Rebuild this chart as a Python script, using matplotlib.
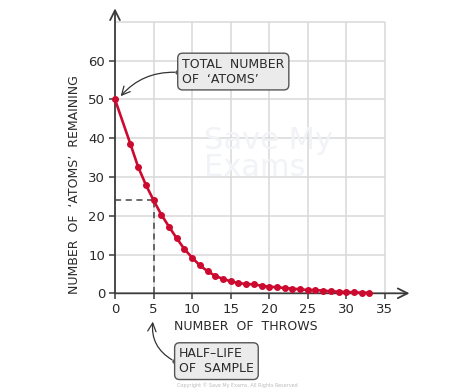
import matplotlib
matplotlib.use('Agg')
import matplotlib.pyplot as plt

# throws vs atoms remaining
throws = [0, 2, 3, 4, 5, 6, 7, 8, 9, 10, 11, 12, 13, 14, 15, 16, 17, 18, 19,
          20, 21, 22, 23, 24, 25, 26, 27, 28, 29, 30, 31, 32, 33]
remaining = [50, 38.5, 32.6, 28.0, 24.0, 20.3, 17.2, 14.2, 11.4, 9.2, 7.2, 5.7,
             4.5, 3.7, 3.1, 2.65, 2.4, 2.3, 1.95, 1.7, 1.55, 1.37, 1.2, 1.03,
             0.85, 0.85, 0.67, 0.52, 0.41, 0.33, 0.26, 0.15, 0.15]
x_ticks = [0, 5, 10, 15, 20, 25, 30, 35]
y_ticks = [0, 10, 20, 30, 40, 50, 60]
half_life = 5
half_value = 24

red = '#cc0a2f'
axis_col = '#3a3a3a'
grid_col = '#d8d8d8'
txt_col = '#2a2a2a'
plt.rcParams['font.family'] = 'DejaVu Sans'

fig = plt.figure(figsize=(4.74, 3.92), dpi=100)
ax = fig.add_axes([115 / 474, 98.7 / 392, 293 / 474, 283 / 392])
ax.set_xlim(0, 38)
ax.set_ylim(0, 73)
for s in ax.spines.values():
    s.set_visible(False)

# grid, limited to the 35 x 70 box
ax.vlines([5, 10, 15, 20, 25, 30, 35], 0, 70, color=grid_col, lw=1.1, zorder=0)
ax.hlines([10, 20, 30, 40, 50, 60, 70], 0, 35, color=grid_col, lw=1.1, zorder=0)

# axes drawn as arrows
ax.annotate('', xy=(38.2, 0), xytext=(0, 0), annotation_clip=False,
            arrowprops=dict(arrowstyle='->,head_length=0.7,head_width=0.35',
                            color=axis_col, lw=1.3, shrinkA=0, shrinkB=0))
ax.annotate('', xy=(0, 73.5), xytext=(0, 0), annotation_clip=False,
            arrowprops=dict(arrowstyle='->,head_length=0.7,head_width=0.35',
                            color=axis_col, lw=1.3, shrinkA=0, shrinkB=0))

ax.set_xticks(x_ticks)
ax.set_yticks(y_ticks)
ax.tick_params(axis='both', length=4, width=1.1, color=axis_col,
               labelsize=9.5, labelcolor=txt_col, pad=3)

# half-life guide lines
ax.plot([0, half_life], [half_value, half_value], ls=(0, (4, 3)), color='#444444', lw=1.1)
ax.plot([half_life, half_life], [0, half_value], ls=(0, (4, 3)), color='#444444', lw=1.1)

ax.plot(throws, remaining, color=red, lw=1.9, marker='o', ms=4, zorder=5,
        clip_on=False)

# watermark
ax.text(11.5, 36, 'Save My\nExams', fontsize=22, color='#f1f3f7',
        ha='left', va='center', linespacing=0.9, zorder=0)
fig.text(0.5, 0.012, 'Copyright \u00a9 Save My Exams. All Rights Reserved',
         fontsize=3.5, color='#bbbbbb', ha='center')

# labels
ax.text(17, -8.5, 'NUMBER  OF  THROWS', fontsize=9, color=txt_col,
        ha='center', va='center')
fig.text(75 / 474, 1 - 185 / 392, 'NUMBER  OF  \u2018ATOMS\u2019  REMAINING',
         fontsize=9, color=txt_col, rotation=90, ha='center', va='center')

# callouts
box = dict(boxstyle='round,pad=0.35,rounding_size=0.4', fc='#ebebeb',
           ec='#555555', lw=1)
ax.text(8.7, 57.2, 'TOTAL  NUMBER\nOF  \u2018ATOMS\u2019', fontsize=9,
        color=txt_col, ha='left', va='center', bbox=box, linespacing=1.2)
ax.annotate('', xy=(0.5, 50.3), xytext=(8.1, 57.0),
            arrowprops=dict(arrowstyle='->,head_length=0.6,head_width=0.3',
                            color='#333333', lw=0.9,
                            connectionstyle='arc3,rad=0.25'))
ax.plot([8.1], [57.0], 'o', color='#555555', ms=2.2)

ax.text(8.3, -17.5, 'HALF\u2013LIFE\nOF  SAMPLE', fontsize=9, color=txt_col,
        ha='left', va='center', bbox=box, linespacing=1.2, clip_on=False)
ax.annotate('', xy=(4.95, -6.6), xytext=(7.7, -17.5), xycoords='data',
            annotation_clip=False,
            arrowprops=dict(arrowstyle='->,head_length=0.6,head_width=0.3',
                            color='#333333', lw=0.9,
                            connectionstyle='arc3,rad=-0.35'))
ax.plot([7.7], [-17.5], 'o', color='#555555', ms=2.2, clip_on=False)

fig.savefig('out.png', dpi=100)
